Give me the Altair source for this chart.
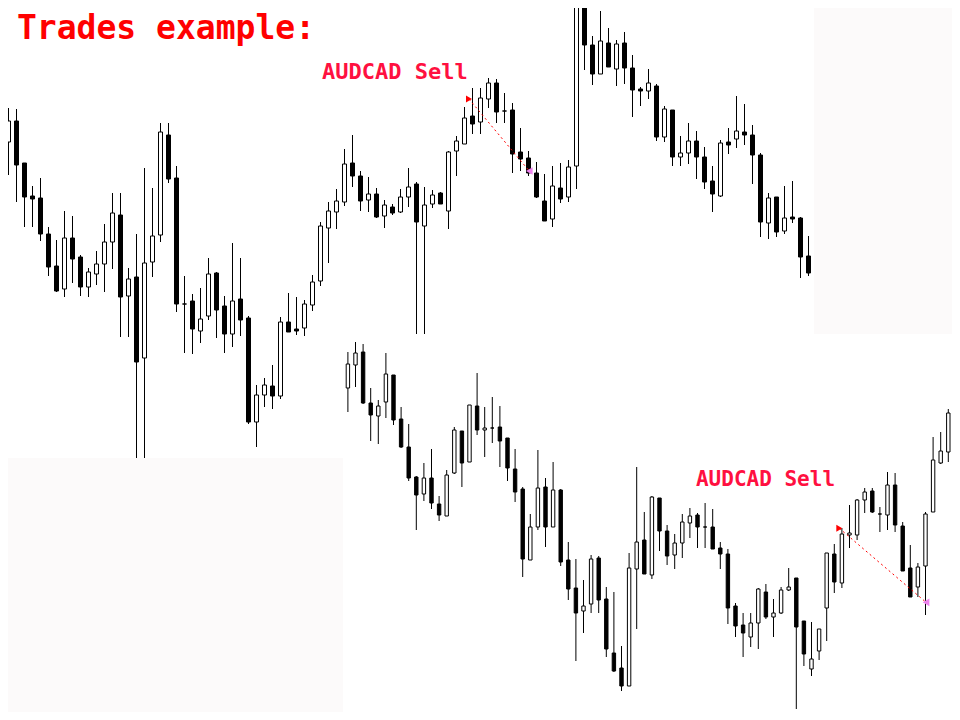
import altair as alt
import pandas as pd

# ---------------- data (price levels in points) ----------------
# Upper chart: 101 candles
TOP_OPEN = [316, 337, 295, 262, 260, 224, 192, 169, 220, 201, 171, 184, 194, 216, 243, 162, 181, 100, 196, 223,
            323, 280, 154, 157, 127, 142, 185, 152, 124, 159, 140, 36, 63, 72, 62, 136, 129, 130, 153, 177,
            230, 246, 256, 295, 282, 258, 264, 242, 251, 246, 261, 274, 232, 254, 265, 247, 307, 314, 342, 336,
            359, 375, 347, 348, 306, 300, 285, 257, 239, 270, 261, 292, 450, 413, 384, 415, 389, 415, 390, 369,
            367, 372, 321, 348, 301, 305, 317, 301, 277, 262, 316, 319, 326, 323, 303, 235, 261, 227, 241, 240,
            202]
TOP_HIGH = [350, 349, 295, 272, 280, 231, 218, 247, 242, 203, 190, 207, 234, 265, 265, 190, 224, 290, 270, 335,
            335, 292, 182, 164, 170, 200, 186, 162, 215, 200, 142, 73, 80, 93, 141, 165, 161, 158, 183, 236,
            256, 269, 309, 323, 287, 281, 270, 258, 254, 269, 290, 276, 271, 268, 266, 307, 322, 351, 370, 370,
            380, 379, 365, 355, 330, 307, 296, 284, 292, 295, 298, 452, 450, 422, 447, 430, 418, 426, 403, 371,
            389, 374, 352, 348, 322, 335, 327, 311, 292, 318, 330, 362, 354, 333, 305, 265, 261, 272, 277, 241,
            222]
TOP_LOW = [283, 256, 231, 231, 217, 182, 166, 161, 175, 162, 161, 173, 166, 189, 121, 121, 0, 0, 181, 216,
           275, 146, 105, 104, 115, 138, 120, 105, 111, 122, 34, 11, 51, 49, 59, 126, 123, 122, 147, 172,
           195, 229, 252, 271, 247, 246, 240, 230, 243, 245, 251, 124, 124, 250, 254, 229, 282, 314, 324, 324,
           350, 335, 335, 285, 287, 282, 260, 237, 231, 255, 256, 269, 388, 373, 384, 391, 372, 374, 341, 352,
           359, 317, 316, 292, 292, 294, 279, 269, 246, 261, 304, 310, 313, 274, 221, 219, 221, 224, 235, 180,
           182]
TOP_CLOSE = [337, 293, 261, 259, 224, 191, 167, 220, 199, 171, 186, 194, 216, 245, 161, 179, 96, 195, 222, 326,
             279, 154, 154, 129, 139, 184, 148, 124, 157, 138, 36, 63, 73, 62, 136, 126, 127, 154, 176, 232,
             247, 257, 294, 282, 257, 264, 241, 253, 245, 261, 271, 236, 253, 263, 254, 306, 317, 340, 334, 360,
             375, 346, 347, 304, 299, 285, 261, 237, 272, 259, 291, 452, 413, 384, 417, 391, 414, 390, 368, 367,
             375, 321, 349, 301, 305, 317, 301, 276, 264, 315, 313, 327, 323, 303, 236, 260, 226, 240, 239, 201,
             185]

# Lower chart: 81 candles
BOT_OPEN = [332, 355, 368, 317, 304, 318, 345, 301, 273, 243, 226, 242, 216, 204, 247, 289, 258, 314, 290, 292,
            293, 282, 251, 231, 160, 193, 233, 193, 230, 160, 132, 109, 116, 162, 121, 67, 52, 34, 151, 180,
            145, 222, 189, 165, 177, 197, 205, 193, 193, 172, 166, 114, 95, 83, 97, 128, 103, 107, 130, 142,
            99, 51, 69, 112, 166, 137, 185, 185, 220, 229, 206, 205, 235, 194, 152, 133, 154, 208, 257, 268,
            307]
BOT_HIGH = [368, 378, 376, 332, 320, 367, 345, 313, 296, 244, 257, 271, 224, 250, 293, 289, 315, 347, 313, 323,
            314, 282, 271, 233, 206, 270, 242, 258, 231, 178, 161, 140, 165, 164, 133, 128, 74, 167, 253, 208,
            224, 222, 195, 186, 206, 212, 207, 217, 211, 178, 171, 117, 107, 107, 132, 136, 121, 133, 152, 142,
            99, 98, 91, 167, 176, 192, 215, 221, 232, 232, 213, 248, 247, 198, 175, 157, 208, 283, 288, 311,
            363]
BOT_LOW = [308, 333, 316, 279, 276, 302, 295, 272, 239, 190, 219, 211, 199, 204, 246, 233, 258, 285, 263, 277,
           253, 239, 218, 143, 160, 190, 173, 193, 154, 120, 59, 87, 107, 107, 63, 48, 29, 34, 91, 146,
           141, 169, 155, 151, 162, 182, 172, 172, 171, 151, 96, 83, 63, 73, 71, 101, 83, 106, 129, 11,
           54, 44, 60, 79, 127, 132, 172, 180, 207, 207, 188, 190, 188, 149, 123, 123, 105, 208, 256, 258,
           298]
BOT_CLOSE = [356, 367, 317, 305, 314, 346, 300, 273, 242, 225, 242, 217, 205, 245, 290, 257, 315, 290, 292, 292,
             279, 252, 228, 161, 193, 232, 193, 230, 158, 131, 107, 114, 161, 120, 71, 49, 34, 152, 178, 146,
             223, 189, 164, 177, 198, 204, 193, 193, 171, 166, 112, 94, 87, 97, 131, 103, 107, 130, 133, 93,
             66, 61, 91, 167, 138, 186, 187, 220, 228, 208, 206, 235, 195, 149, 123, 153, 206, 260, 269, 307,
             352]

# Trades: entry / exit (bar index, price)
TOP_TRADE = {"bar": [58.56, 66.1], "price": [359, 287]}
BOT_TRADE = {"bar": [64.66, 76.07], "price": [191.7, 117.7]}
TRADE_LABEL = "AUDCAD Sell"
TITLE = "Trades example:"

# ---------------- layout ----------------
W, H = 944, 704
MONO = "DejaVu Sans Mono"

top = pd.DataFrame({"bar": list(range(1, len(TOP_OPEN) + 1)), "open": TOP_OPEN,
                    "high": TOP_HIGH, "low": TOP_LOW, "close": TOP_CLOSE})
bot = pd.DataFrame({"bar": list(range(len(BOT_OPEN))), "open": BOT_OPEN,
                    "high": BOT_HIGH, "low": BOT_LOW, "close": BOT_CLOSE})

# upper chart: 8 px per bar, 1 px per point
top_x = alt.Scale(domain=[0.9375, 0.9375 + W / 8.0], nice=False, zero=False, padding=0)
top_y = alt.Scale(domain=[450 - H, 450], nice=False, zero=False, padding=0)
# lower chart: 7.6 px per bar, 1 px per point
bx0 = -339.9 / 7.6
bot_x = alt.Scale(domain=[bx0, bx0 + W / 7.6], nice=False, zero=False, padding=0)
bot_y = alt.Scale(domain=[712 - H, 712], nice=False, zero=False, padding=0)

one = pd.DataFrame({"k": [0]})


def candles(df, xs, ys, body):
    base = alt.Chart(df)
    wick = base.mark_rule(color="black", strokeWidth=1).encode(
        x=alt.X("bar:Q", scale=xs, axis=None),
        y=alt.Y("low:Q", scale=ys, axis=None),
        y2="high:Q")
    bars = base.mark_bar(size=body, stroke="black", strokeWidth=1).encode(
        x=alt.X("bar:Q", scale=xs, axis=None),
        y=alt.Y("open:Q", scale=ys, axis=None),
        y2="close:Q",
        fill=alt.condition("datum.close >= datum.open", alt.value("white"), alt.value("black")))
    return [wick, bars]


def trade(tr, xs, ys, label_bar, label_price, size):
    d = pd.DataFrame({"bar": [tr["bar"][0]], "price": [tr["price"][0]],
                      "bar2": [tr["bar"][1]], "price2": [tr["price"][1]]})
    line = alt.Chart(d).mark_rule(color="#ff0000", strokeWidth=1, strokeDash=[2, 3]).encode(
        x=alt.X("bar:Q", scale=xs, axis=None), y=alt.Y("price:Q", scale=ys, axis=None),
        x2="bar2:Q", y2="price2:Q")
    start = alt.Chart(d).mark_point(shape="triangle-right", filled=True, size=48,
                                    color="#ff0000", opacity=1).encode(
        x=alt.X("bar:Q", scale=xs, axis=None), y=alt.Y("price:Q", scale=ys, axis=None))
    end = alt.Chart(d).mark_point(shape="triangle-left", filled=True, size=60,
                                  color="#ee82ee", opacity=1).encode(
        x=alt.X("bar2:Q", scale=xs, axis=None), y=alt.Y("price2:Q", scale=ys, axis=None))
    lab = alt.Chart(pd.DataFrame({"bar": [label_bar], "price": [label_price], "t": [TRADE_LABEL]})).mark_text(
        align="left", baseline="alphabetic", font=MONO, fontWeight="bold", fontSize=size,
        color="#ff1040").encode(
        x=alt.X("bar:Q", scale=xs, axis=None), y=alt.Y("price:Q", scale=ys, axis=None), text="t:N")
    return [line, start, end, lab]


top_panel = alt.Chart(one).mark_rect(color="white").encode(
    x=alt.value(0), x2=alt.value(806), y=alt.value(0), y2=alt.value(450))
bot_panel = alt.Chart(one).mark_rect(color="white").encode(
    x=alt.value(335), x2=alt.value(W), y=alt.value(326), y2=alt.value(H))

title = alt.Chart(pd.DataFrame({"t": [TITLE]})).mark_text(
    align="left", baseline="alphabetic", font=MONO, fontWeight="bold", fontSize=33,
    color="#ff0000").encode(x=alt.value(9), y=alt.value(30.5), text="t:N")

layers = ([top_panel] + candles(top, top_x, top_y, 4) +
          trade(TOP_TRADE, top_x, top_y, 40.2, 379, 22) +
          [bot_panel] + candles(bot, bot_x, bot_y, 3.4) +
          trade(BOT_TRADE, bot_x, bot_y, 45.8, 234.5, 21) +
          [title])

chart = alt.layer(*layers).resolve_scale(x="independent", y="independent").properties(
    width=W, height=H, padding=0, background="#fcfafa",
    autosize=alt.AutoSizeParams(type="none")
).configure_view(strokeWidth=0)

chart.save("out.html", embed_options={"renderer": "svg", "actions": False})
